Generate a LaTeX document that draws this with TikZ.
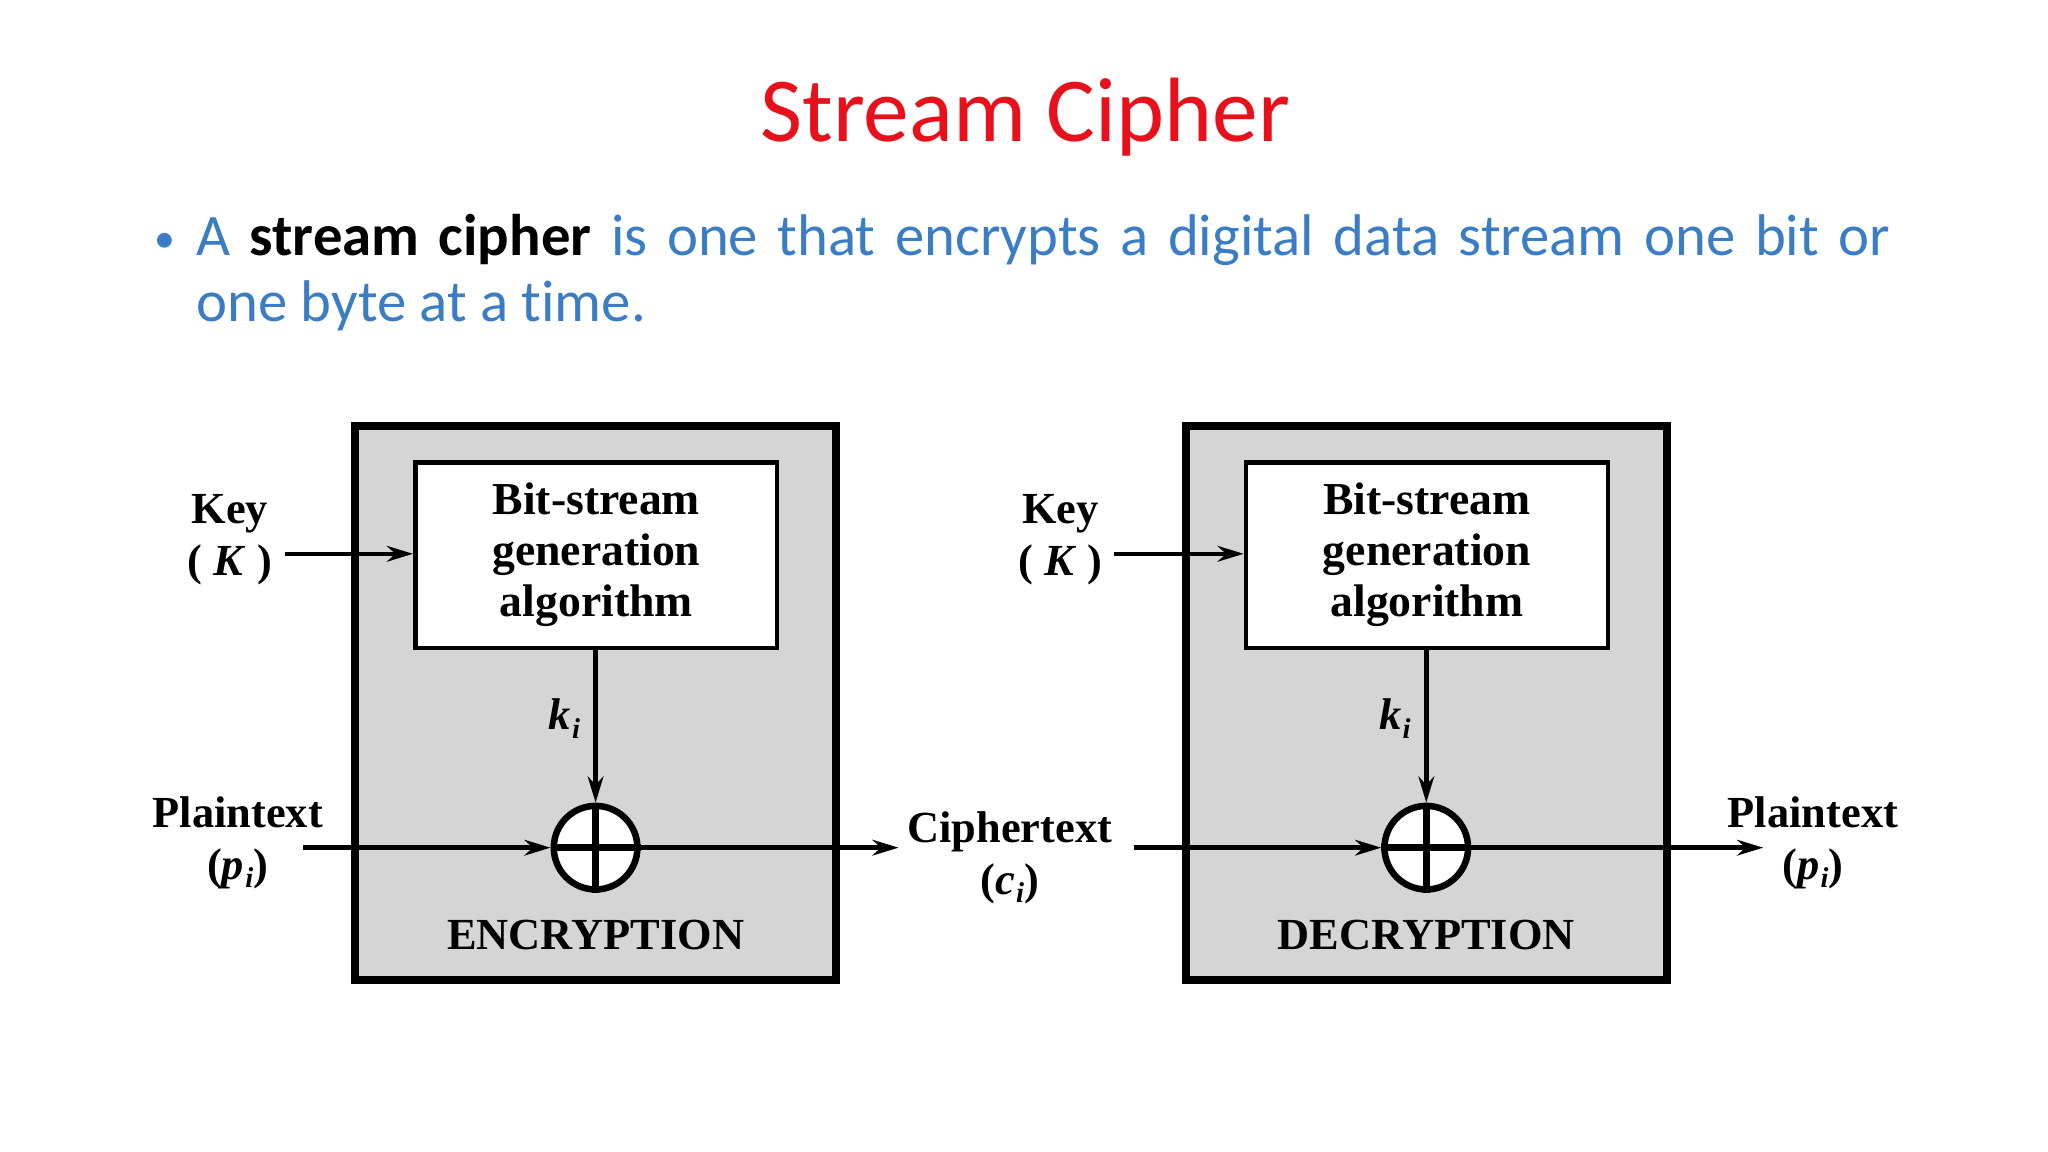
\documentclass[tikz,border=0pt]{standalone}
\usepackage{fontspec}
\setmainfont{Liberation Serif}
\newfontfamily\calfont{Carlito}
\usetikzlibrary{arrows.meta}
\definecolor{blu}{HTML}{3B7DC4}
\definecolor{ttl}{HTML}{E8101A}
\definecolor{boxg}{HTML}{D5D5D5}
\begin{document}
\begin{tikzpicture}[x=1pt,y=-1pt,
  outer/.style={draw,line width=6pt,fill=boxg},
  inner/.style={draw,line width=3.5pt,fill=white,minimum width=277pt,minimum height=142pt,align=center,font=\fontsize{35}{39}\selectfont\bfseries},
  lbl/.style={align=center,font=\fontsize{34}{40}\selectfont\bfseries},
  body/.style={anchor=base west,font=\calfont\fontsize{45}{50}\selectfont,text=blu,inner sep=0},
  xor/.style={draw,line width=5pt,circle,minimum size=64pt,fill=white},
  arr/.style={line width=3.5pt,-{Stealth[length=20pt,width=12pt]}}]
\useasboundingbox (0,0) rectangle (1568,882);
\node[font=\calfont\fontsize{70}{80}\selectfont,text=ttl] (title) at (785,90) {Stream Cipher};
\node[body,font=\calfont\fontsize{32}{40}\selectfont] (b) at (118,193) {•};
\node[body] (t1) at (150,196) {\makebox[1297pt][s]{A \textcolor{black}{\bfseries stream cipher} is one that encrypts a digital data stream one bit or}};
\node[body] (t2) at (150,246) {one byte at a t\kern0pt ime.};
% encryption
\draw[outer] (272,326) rectangle (640,750);
\node[inner] (g1) at (456.5,425) {Bit-stream\\generation\\algorithm};
\node[xor] (x1) at (456,649) {};
\draw[line width=5pt] (x1.north) -- (x1.south) (x1.west) -- (x1.east);
\node[lbl] (e1) at (456,716) {ENCRYPTION};
\node[lbl,font=\fontsize{34}{40}\selectfont\bfseries\itshape] (k1) at (432,550) {k\kern1pt\raisebox{-7pt}{\fontsize{22}{22}\selectfont i}};
\node[lbl] (key1) at (176,413) {Key\\( \textit{K} )};
\node[lbl] (p1) at (182,645) {Plaintext\\(\textit{p\kern1pt\raisebox{-6pt}{\fontsize{22}{22}\selectfont i}})};
\node[lbl] (c) at (773,657) {Ciphertext\\(\textit{c\kern1pt\raisebox{-6pt}{\fontsize{22}{22}\selectfont i}})};
\coordinate (ka) at (218,424); \coordinate (pa) at (232,649);
\draw[arr] (ka) -- (g1.west|-ka);
\draw[arr] (g1.south-|x1) -- (x1.north);
\draw[arr] (pa) -- (x1.west);
\coordinate (ce) at (688,649); \coordinate (cs) at (868,649);
\draw[arr] (x1.east) -- (ce);
% decryption
\draw[outer] (908,326) rectangle (1276,750);
\node[inner] (g2) at (1092.5,425) {Bit-stream\\generation\\algorithm};
\node[xor] (x2) at (1092,649) {};
\draw[line width=5pt] (x2.north) -- (x2.south) (x2.west) -- (x2.east);
\node[lbl] (e2) at (1092,716) {DECRYPTION};
\node[lbl,font=\fontsize{34}{40}\selectfont\bfseries\itshape] (k2) at (1068,550) {k\kern1pt\raisebox{-7pt}{\fontsize{22}{22}\selectfont i}};
\node[lbl] (key2) at (812,413) {Key\\( \textit{K} )};
\node[lbl] (p2) at (1388,645) {Plaintext\\(\textit{p\kern1pt\raisebox{-6pt}{\fontsize{22}{22}\selectfont i}})};
\coordinate (kb) at (853,424); \coordinate (po) at (1350,649);
\draw[arr] (kb) -- (g2.west|-kb);
\draw[arr] (g2.south-|x2) -- (x2.north);
\draw[arr] (cs) -- (x2.west);
\draw[arr] (x2.east) -- (po);
\end{tikzpicture}
\end{document}
